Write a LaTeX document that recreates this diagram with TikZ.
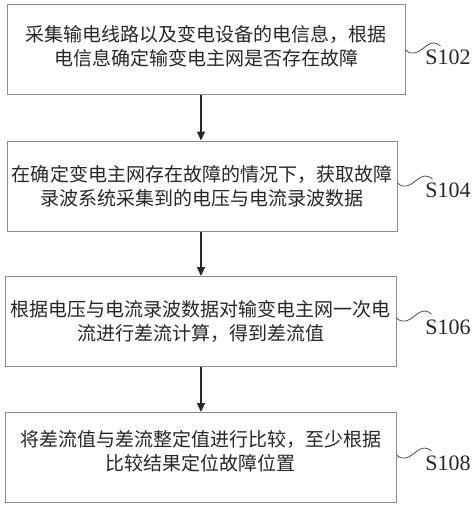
\documentclass[tikz,border=0pt]{standalone}
\usepackage{fontspec}
\setmainfont{Liberation Serif}
\newfontfamily\cjk{Noto Sans CJK SC}
\usetikzlibrary{arrows.meta}
\begin{document}
\begin{tikzpicture}[x=1pt,y=-1pt,
  stepbox/.style={draw=black!45,line width=1pt,inner sep=0pt,minimum width=#1,minimum height=90pt,
    align=center,font=\cjk\fontsize{19}{24}\selectfont,text=black!85},
  flow/.style={draw=black!85,line width=1.1pt,-{Triangle[length=9pt,width=8pt]}},
  wave/.style={draw=black!70,line width=0.8pt},
  steplabel/.style={font=\fontsize{22}{24}\selectfont,text=black!85,inner sep=0pt}]
\useasboundingbox (0,0) rectangle (474,508);
\node[stepbox=398pt,text depth=9pt] (b1) at (206,49.5) {采集输电线路以及变电设备的电信息，根据\\电信息确定输变电主网是否存在故障};
\node[stepbox=390pt] (b2) at (202,186) {在确定变电主网存在故障的情况下，获取故障\\录波系统采集到的电压与电流录波数据};
\node[stepbox=391pt] (b3) at (200.5,321.5) {根据电压与电流录波数据对输变电主网一次电\\流进行差流计算，得到差流值};
\node[stepbox=391pt,text depth=15pt] (b4) at (200.5,457.5) {将差流值与差流整定值进行比较，至少根据\\比较结果定位故障位置};
\draw[flow] (b1.south -| 201,0) -- (b2.north -| 201,0);
\draw[flow] (b2.south -| 201,0) -- (b3.north -| 201,0);
\draw[flow] (b3.south -| 201,0) -- (b4.north -| 201,0);
\node[steplabel] (l1) at (448,57) {S102};
\node[steplabel] (l2) at (448,190) {S104};
\node[steplabel] (l3) at (448,327) {S106};
\node[steplabel] (l4) at (448,463) {S108};
\coordinate (w1) at (b1.east |- 0,50);
\coordinate (w2) at (b2.east |- 0,183);
\coordinate (w3) at (b3.east |- 0,318);
\coordinate (w4) at (b4.east |- 0,455);
\foreach \w in {w1,w2,w3,w4}{
  \draw[wave] (\w) .. controls +(4,3) and +(-4,0) .. ++(8,3) .. controls +(7,0) and +(-7,0) .. ++(20,-10) .. controls +(3,0) and +(-2,-1.5) .. ++(7,3);
}
\end{tikzpicture}
\end{document}
